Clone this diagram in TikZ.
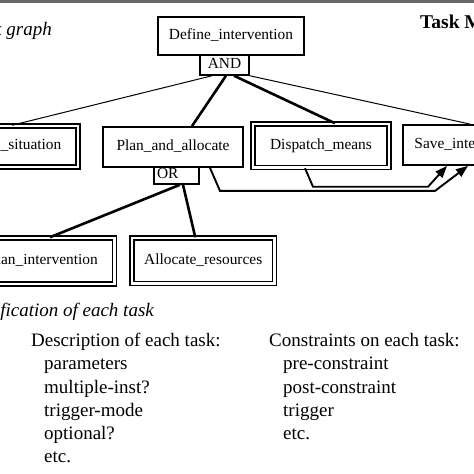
\documentclass[tikz,border=0pt]{standalone}
\usepackage{fontspec}
\setmainfont{Liberation Serif}
\usetikzlibrary{arrows.meta}
\begin{document}
\begin{tikzpicture}[x=1pt,y=-1pt,
  boxfont/.style={font=\fontsize{15.4}{18}\selectfont},
  txtfont/.style={font=\fontsize{19}{23}\selectfont},
  taskbox/.style={draw, line width=1.8pt, rectangle, inner sep=0pt, boxfont,
    text height=0.66em, text depth=0pt},
  dbox/.style={draw, rectangle, inner sep=0pt, boxfont, line width=1.5pt,
    double, double distance=2.8pt, text height=0.66em, text depth=0pt},
  opbox/.style={draw, line width=1.5pt, rectangle, inner sep=0pt, boxfont,
    text height=0.66em, text depth=0pt},
  thin/.style={line width=1pt},
  thick/.style={line width=2.6pt},
  seq/.style={line width=1.9pt, -{Triangle[length=12pt,width=9pt]}},
  plain/.style={anchor=base west, inner sep=0pt, txtfont}
]
\useasboundingbox (0,0) rectangle (474,474);
\clip (0,0) rectangle (474,474);
\fill[black!60] (0,0) rectangle (474,3);

% titles
\node[anchor=base east, inner sep=0pt, font=\fontsize{19}{23}\selectfont\itshape] (tg) at (52,35) {(a) Task graph};
\node[anchor=base west, inner sep=0pt, font=\fontsize{19.5}{23}\selectfont\bfseries] (tm) at (420,28) {Task Model};

% task graph
\node[taskbox, minimum width=146pt, minimum height=38pt] (def) at (231,36) {Define\_intervention};
\node[opbox, minimum width=49pt, minimum height=20pt] (and) at (224.5,65) {AND};
\node[dbox, minimum width=148pt, minimum height=41pt] (sit) at (4,146.5) {Evaluate\_situation};
\node[taskbox, minimum width=140pt, minimum height=40pt] (plan) at (173,147) {Plan\_and\_allocate};
\node[opbox, text width=39pt, inner xsep=3pt, align=left, minimum height=17pt] (or) at (176.5,175.5) {OR};
\node[dbox, minimum width=136pt, minimum height=43.5pt] (disp) at (321,145.75) {Dispatch\_means};
\node[taskbox, minimum width=135pt, minimum height=40pt] (save) at (470.5,145) {Save\_intervention};
\node[dbox, minimum width=143pt, minimum height=46pt] (planint) at (43,261) {Plan\_intervention};
\node[dbox, minimum width=142.5pt, minimum height=45.5pt] (alloc) at (203.25,260.75) {Allocate\_resources};

% decomposition links
\draw[thin] ([xshift=-12.5pt]and.south) -- ([xshift=8pt]sit.north);
\draw[thick] ([xshift=1.5pt]and.south) -- ([xshift=19pt]plan.north);
\draw[thick] ([xshift=9.5pt]and.south) -- ([xshift=14pt]disp.north);
\draw[thin] (and.south east) -- ([xshift=-0.5pt]save.north);
\draw[thick] ([xshift=3.5pt]or.south) -- ([xshift=7pt]planint.north);
\draw[thick] ([xshift=6.5pt]or.south) -- ([xshift=-8pt]alloc.north);

% sequence arrows
\draw[seq] ([xshift=37pt]plan.south) -- ++(10,23) -- ++(215,0) -- ([xshift=-2.5pt]save.south);
\draw[seq] ([xshift=-16pt]disp.south) -- ++(8,18.5) -- ++(115,0) -- ([xshift=-23.5pt]save.south);

% specification
\node[anchor=base east, inner sep=0pt, font=\fontsize{19}{23}\selectfont\itshape] (spec) at (154,316) {(b) Specification of each task};
\node[plain] (desc) at (31,346.7) {Description of each task:};
\node[plain] (d1) at (44,369.9) {parameters};
\node[plain] (d2) at (44,393.1) {multiple-inst?};
\node[plain] (d3) at (44,416.3) {trigger-mode};
\node[plain] (d4) at (44,439.5) {optional?};
\node[plain] (d5) at (44,462.7) {etc.};
\node[plain] (cons) at (269,346.7) {Constraints on each task:};
\node[plain] (c1) at (283,369.9) {pre-constraint};
\node[plain] (c2) at (283,393.1) {post-constraint};
\node[plain] (c3) at (283,416.3) {trigger};
\node[plain] (c4) at (283,439.5) {etc.};
\end{tikzpicture}
\end{document}
